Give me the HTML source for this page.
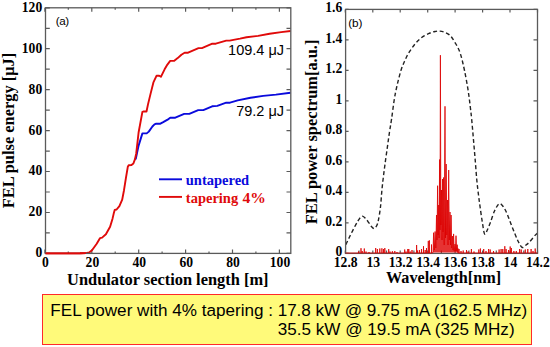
<!DOCTYPE html>
<html><head><meta charset="utf-8"><style>
html,body{margin:0;padding:0;background:#fff;width:550px;height:347px;overflow:hidden}
svg{position:absolute;left:0;top:0}
.box{position:absolute;left:41.5px;top:294px;width:488px;height:48.7px;background:#fffa7a;border:1.6px solid #ff2a2a;
font-family:"Liberation Sans",sans-serif;font-size:17.1px;color:#000;}
.l1{position:absolute;left:7.8px;top:5.7px;white-space:nowrap}
.l2{position:absolute;left:235.3px;top:24.6px;white-space:nowrap}
</style></head><body>
<svg width="550" height="347" viewBox="0 0 550 347">
<path d="M44.9,253.4v-4M44.9,7.8v4M68.3,253.4v-2M68.3,7.8v2M91.8,253.4v-4M91.8,7.8v4M115.2,253.4v-2M115.2,7.8v2M138.7,253.4v-4M138.7,7.8v4M162.1,253.4v-2M162.1,7.8v2M185.6,253.4v-4M185.6,7.8v4M209.0,253.4v-2M209.0,7.8v2M232.5,253.4v-4M232.5,7.8v4M255.9,253.4v-2M255.9,7.8v2M279.4,253.4v-4M279.4,7.8v4M45.5,253.4h4.3M290.8,253.4h-4.3M45.5,232.9h4.3M290.8,232.9h-4.3M45.5,212.5h4.3M290.8,212.5h-4.3M45.5,192.0h4.3M290.8,192.0h-4.3M45.5,171.5h4.3M290.8,171.5h-4.3M45.5,151.1h4.3M290.8,151.1h-4.3M45.5,130.6h4.3M290.8,130.6h-4.3M45.5,110.1h4.3M290.8,110.1h-4.3M45.5,89.7h4.3M290.8,89.7h-4.3M45.5,69.2h4.3M290.8,69.2h-4.3M45.5,48.7h4.3M290.8,48.7h-4.3M45.5,28.3h4.3M290.8,28.3h-4.3M45.5,7.8h4.3M290.8,7.8h-4.3M345.3,253.4v-3M345.3,9.4v3M359.0,253.4v-3M372.8,253.4v-3M372.8,9.4v3M386.5,253.4v-3M400.2,253.4v-3M400.2,9.4v3M413.9,253.4v-3M427.7,253.4v-3M427.7,9.4v3M441.4,253.4v-3M455.1,253.4v-3M455.1,9.4v3M468.9,253.4v-3M482.6,253.4v-3M482.6,9.4v3M496.3,253.4v-3M510.0,253.4v-3M510.0,9.4v3M523.8,253.4v-3M537.5,253.4v-3M537.5,9.4v3M345.6,253.3h3M537.5,253.3h-4M345.6,222.8h3M537.5,222.8h-4M345.6,192.3h3M537.5,192.3h-4M345.6,161.8h3M537.5,161.8h-4M345.6,131.4h3M537.5,131.4h-4M345.6,100.9h3M537.5,100.9h-4M345.6,70.4h3M537.5,70.4h-4M345.6,39.9h3M537.5,39.9h-4M345.6,9.4h3M537.5,9.4h-4" stroke="#5a5a5a" stroke-width="1.2" fill="none"/>
<polyline points="134.9,159.4 135.8,158.8 138.6,145.6 142.4,133.4 146.7,133.4 148.8,131.6 152.4,126.5 154.5,124.4 156.2,123.7 160.4,123.7 163.2,122.2 167.6,119.7 170.2,117.7 175.3,117.7 184.2,113.9 189.3,113.9 198.2,110.1 203.3,110.1 212.2,106.3 217.3,105.9 226.2,102.7 230.0,102.7 237.7,100.4 250.5,97.8 263.2,95.9 275.9,94.6 290.5,92.7" fill="none" stroke="#0a0adc" stroke-width="1.9" stroke-linejoin="round"/>
<polyline points="45.5,253.4 80.0,253.3 86.0,253.1 89.2,252.4 92.0,250.2 96.7,243.8 100.1,238.1 102.1,237.6 105.9,234.3 110.1,226.8 112.6,218.4 113.7,213.6 114.7,209.9 116.6,209.5 119.4,206.1 122.2,199.6 124.0,190.2 125.9,178.1 127.8,166.8 128.7,165.3 131.5,165.0 133.4,163.5 134.9,159.4 136.2,153.7 138.6,132.5 142.4,111.9 143.3,111.5 146.5,111.5 148.0,104.4 150.6,93.6 153.4,82.4 156.6,75.6 159.2,75.8 160.9,76.8 164.6,69.3 167.4,64.6 170.2,60.9 174.0,60.9 177.7,58.1 181.4,54.7 184.6,52.7 188.1,52.7 198.5,48.1 201.9,48.1 212.3,43.7 215.8,43.7 226.2,40.6 229.6,40.6 240.0,38.6 246.5,37.2 258.1,35.9 269.6,33.8 281.2,32.1 290.6,31.0" fill="none" stroke="#e00a0a" stroke-width="1.9" stroke-linejoin="round"/>
<path d="M345.80,244.60C346.42,243.33 348.17,239.68 349.50,237.00C350.83,234.32 352.38,231.17 353.80,228.50C355.22,225.83 356.65,223.05 358.00,221.00C359.35,218.95 360.65,216.62 361.90,216.20C363.15,215.78 364.35,217.42 365.50,218.50C366.65,219.58 367.80,221.37 368.80,222.70C369.80,224.03 370.60,225.53 371.50,226.50C372.40,227.47 373.37,228.58 374.20,228.50C375.03,228.42 375.85,227.17 376.50,226.00C377.15,224.83 377.45,224.55 378.10,221.50C378.75,218.45 379.73,213.27 380.40,207.70C381.07,202.13 381.42,194.72 382.10,188.10C382.78,181.48 383.63,174.73 384.50,168.00C385.37,161.27 386.47,153.70 387.30,147.70C388.13,141.70 388.78,136.82 389.50,132.00C390.22,127.18 390.82,124.13 391.60,118.80C392.38,113.47 393.38,105.13 394.20,100.00C395.02,94.87 395.73,91.60 396.50,88.00C397.27,84.40 397.97,81.60 398.80,78.40C399.63,75.20 400.53,71.67 401.50,68.80C402.47,65.93 403.55,63.58 404.60,61.20C405.65,58.82 406.65,56.58 407.80,54.50C408.95,52.42 410.22,50.55 411.50,48.70C412.78,46.85 414.15,44.98 415.50,43.40C416.85,41.82 418.10,40.48 419.60,39.20C421.10,37.92 422.77,36.73 424.50,35.70C426.23,34.67 428.25,33.70 430.00,33.00C431.75,32.30 433.33,31.82 435.00,31.50C436.67,31.18 438.42,30.98 440.00,31.10C441.58,31.22 443.05,31.65 444.50,32.20C445.95,32.75 447.48,33.52 448.70,34.40C449.92,35.28 450.85,36.30 451.80,37.50C452.75,38.70 453.45,40.05 454.40,41.60C455.35,43.15 456.53,44.87 457.50,46.80C458.47,48.73 459.37,50.75 460.20,53.20C461.03,55.65 461.78,58.62 462.50,61.50C463.22,64.38 463.78,67.00 464.50,70.50C465.22,74.00 466.08,78.42 466.80,82.50C467.52,86.58 468.22,90.92 468.80,95.00C469.38,99.08 469.82,102.92 470.30,107.00C470.78,111.08 471.17,114.00 471.70,119.50C472.23,125.00 472.92,133.25 473.50,140.00C474.08,146.75 474.65,153.33 475.20,160.00C475.75,166.67 476.25,174.17 476.80,180.00C477.35,185.83 477.95,190.50 478.50,195.00C479.05,199.50 479.47,202.50 480.10,207.00C480.73,211.50 481.55,217.50 482.30,222.00C483.05,226.50 483.77,232.67 484.60,234.00C485.43,235.33 486.35,231.87 487.30,230.00C488.25,228.13 489.10,225.97 490.30,222.80C491.50,219.63 493.00,214.20 494.50,211.00C496.00,207.80 497.80,204.27 499.30,203.60C500.80,202.93 502.20,205.30 503.50,207.00C504.80,208.70 505.85,210.97 507.10,213.80C508.35,216.63 509.68,220.63 511.00,224.00C512.32,227.37 513.75,231.00 515.00,234.00C516.25,237.00 517.30,239.75 518.50,242.00C519.70,244.25 520.95,247.00 522.20,247.50C523.45,248.00 524.77,245.93 526.00,245.00C527.23,244.07 528.05,243.55 529.60,241.90C531.15,240.25 534.00,236.55 535.30,235.10C536.60,233.65 537.05,233.52 537.40,233.20" fill="none" stroke="#222" stroke-width="1.4" stroke-dasharray="4,2.6" stroke-linejoin="round"/>
<rect x="45.5" y="7.8" width="245.3" height="245.6" fill="none" stroke="#5a5a5a" stroke-width="1.3"/>
<rect x="345.6" y="9.4" width="191.9" height="244.0" fill="none" stroke="#5a5a5a" stroke-width="1.3"/>
<polygon points="433.0,252.5 433.6,232.7 434.3,250.0 435.1,231.5 435.8,248.0 436.5,215.0 437.0,240.0 437.6,185.7 438.1,235.0 438.7,205.0 439.1,238.0 439.6,159.5 440.0,230.0 440.4,55.2 440.9,225.0 441.5,190.0 442.0,240.0 442.5,179.0 443.0,232.0 443.5,177.5 444.2,245.0 445.0,106.3 445.5,238.0 446.2,164.0 446.8,235.0 447.5,200.0 448.0,245.0 448.7,170.0 449.3,240.0 450.0,212.0 450.5,245.0 451.1,215.0 451.7,248.0 452.4,236.0 453.0,250.0 453.6,233.9 454.2,251.0 455.0,244.0 455.5,251.0 456.0,235.7 456.6,251.0 457.2,244.7 457.8,252.5" fill="#e00000" fill-opacity="0.8" stroke="none"/>
<polyline points="345.6,253.0 358.4,253.0 358.5,251.5 358.6,253.0 360.9,253.0 361.0,248.2 361.1,253.0 362.1,253.0 362.2,251.0 362.3,253.0 364.2,253.0 364.3,248.5 364.4,253.0 365.9,253.0 366.0,251.5 366.1,253.0 368.9,253.0 369.0,252.0 369.1,253.0 375.6,253.0 375.7,248.0 375.8,253.0 377.2,253.0 377.4,249.0 377.5,253.0 379.7,253.0 379.8,248.5 379.9,253.0 381.8,253.0 381.9,248.3 382.0,253.0 383.4,253.0 383.5,249.0 383.6,253.0 384.7,253.0 384.8,248.0 384.9,253.0 388.6,253.0 388.7,249.1 388.8,253.0 389.9,253.0 390.0,251.5 390.1,253.0 392.2,253.0 392.4,251.2 392.5,253.0 394.7,253.0 394.8,251.0 394.9,253.0 396.9,253.0 397.0,252.0 397.1,253.0 404.6,253.0 404.7,249.5 404.8,253.0 405.9,253.0 406.0,251.5 406.1,253.0 407.7,253.0 407.8,249.0 407.9,253.0 408.7,253.0 408.8,249.0 408.9,253.0 410.1,253.0 410.2,251.5 410.3,253.0 411.9,253.0 412.0,250.0 412.1,253.0 416.5,253.0 416.6,245.0 416.8,253.0 417.4,253.0 417.5,250.5 417.6,253.0 419.2,253.0 419.4,250.0 419.5,253.0 421.4,253.0 421.5,249.0 421.6,253.0 423.4,253.0 423.5,246.2 423.6,253.0 425.1,253.0 425.2,250.0 425.3,253.0 426.4,253.0 426.5,248.0 426.6,253.0 428.2,253.0 428.3,240.9 428.4,253.0 429.2,253.0 429.4,240.4 429.5,253.0 431.4,253.0 431.5,244.5 431.6,253.0 433.0,252.5 433.6,232.7 434.3,250.0 435.1,231.5 435.8,248.0 436.5,215.0 437.0,240.0 437.6,185.7 438.1,235.0 438.7,205.0 439.1,238.0 439.6,159.5 440.0,230.0 440.4,55.2 440.9,225.0 441.5,190.0 442.0,240.0 442.5,179.0 443.0,232.0 443.5,177.5 444.2,245.0 445.0,106.3 445.5,238.0 446.2,164.0 446.8,235.0 447.5,200.0 448.0,245.0 448.7,170.0 449.3,240.0 450.0,212.0 450.5,245.0 451.1,215.0 451.7,248.0 452.4,236.0 453.0,250.0 453.6,233.9 454.2,251.0 455.0,244.0 455.5,251.0 456.0,235.7 456.6,251.0 457.2,244.7 457.8,252.5 458.0,248.5 458.1,253.0 458.9,253.0 459.0,249.0 459.1,253.0 460.9,253.0 461.0,251.0 461.1,253.0 463.1,253.0 463.2,250.5 463.3,253.0 466.4,253.0 466.5,250.0 466.6,253.0 467.9,253.0 468.0,251.5 468.1,253.0 471.2,253.0 471.4,249.0 471.5,253.0 473.9,253.0 474.0,251.5 474.1,253.0 478.7,253.0 478.8,249.5 478.9,253.0 480.2,253.0 480.4,248.5 480.5,253.0 483.6,253.0 483.7,249.0 483.8,253.0 485.9,253.0 486.0,251.0 486.1,253.0 488.5,253.0 488.6,249.0 488.8,253.0 490.1,253.0 490.2,249.5 490.3,253.0 493.4,253.0 493.5,251.0 493.6,253.0 499.0,253.0 499.1,249.5 499.2,253.0 501.0,253.0 501.1,249.0 501.2,253.0 502.7,253.0 502.8,249.0 502.9,253.0 504.7,253.0 504.8,246.2 504.9,253.0 506.0,253.0 506.1,249.0 506.2,253.0 508.4,253.0 508.5,250.0 508.6,253.0 510.1,253.0 510.2,246.5 510.3,253.0 511.2,253.0 511.4,248.0 511.5,253.0 513.8,253.0 513.9,251.0 514.0,253.0 516.1,253.0 516.3,251.0 516.4,253.0 519.5,253.0 519.6,249.0 519.8,253.0 521.1,253.0 521.2,249.5 521.4,253.0 525.1,253.0 525.3,249.5 525.4,253.0 527.6,253.0 527.8,249.0 527.9,253.0 531.0,253.0 531.1,249.0 531.2,253.0 532.9,253.0 533.0,251.0 533.1,253.0 535.1,253.0 535.2,248.5 535.4,253.0 537.5,253.0" fill="none" stroke="#dc0000" stroke-width="0.8" stroke-linejoin="miter" stroke-miterlimit="2"/>
<polyline points="45.5,253.4 80,253.3 86,253.1" fill="none" stroke="#e00a0a" stroke-width="1.9"/>
<text x="42.2" y="257.3" font-family="Liberation Serif" font-weight="bold" font-size="13.6" text-anchor="end">0</text>
<text x="42.2" y="216.4" font-family="Liberation Serif" font-weight="bold" font-size="13.6" text-anchor="end">20</text>
<text x="42.2" y="175.4" font-family="Liberation Serif" font-weight="bold" font-size="13.6" text-anchor="end">40</text>
<text x="42.2" y="134.5" font-family="Liberation Serif" font-weight="bold" font-size="13.6" text-anchor="end">60</text>
<text x="42.2" y="93.6" font-family="Liberation Serif" font-weight="bold" font-size="13.6" text-anchor="end">80</text>
<text x="42.2" y="52.6" font-family="Liberation Serif" font-weight="bold" font-size="13.6" text-anchor="end">100</text>
<text x="42.2" y="11.7" font-family="Liberation Serif" font-weight="bold" font-size="13.6" text-anchor="end">120</text>
<text x="45.5" y="267" font-family="Liberation Serif" font-weight="bold" font-size="13.6" text-anchor="middle">0</text>
<text x="92.4" y="267" font-family="Liberation Serif" font-weight="bold" font-size="13.6" text-anchor="middle">20</text>
<text x="139.3" y="267" font-family="Liberation Serif" font-weight="bold" font-size="13.6" text-anchor="middle">40</text>
<text x="186.2" y="267" font-family="Liberation Serif" font-weight="bold" font-size="13.6" text-anchor="middle">60</text>
<text x="233.1" y="267" font-family="Liberation Serif" font-weight="bold" font-size="13.6" text-anchor="middle">80</text>
<text x="280.0" y="267" font-family="Liberation Serif" font-weight="bold" font-size="13.6" text-anchor="middle">100</text>
<text x="342.2" y="256.3" font-family="Liberation Serif" font-weight="bold" font-size="13.6" text-anchor="end">0</text>
<text x="342.2" y="225.8" font-family="Liberation Serif" font-weight="bold" font-size="13.6" text-anchor="end">0.2</text>
<text x="342.2" y="195.3" font-family="Liberation Serif" font-weight="bold" font-size="13.6" text-anchor="end">0.4</text>
<text x="342.2" y="164.8" font-family="Liberation Serif" font-weight="bold" font-size="13.6" text-anchor="end">0.6</text>
<text x="342.2" y="134.4" font-family="Liberation Serif" font-weight="bold" font-size="13.6" text-anchor="end">0.8</text>
<text x="342.2" y="103.9" font-family="Liberation Serif" font-weight="bold" font-size="13.6" text-anchor="end">1</text>
<text x="342.2" y="73.4" font-family="Liberation Serif" font-weight="bold" font-size="13.6" text-anchor="end">1.2</text>
<text x="342.2" y="42.9" font-family="Liberation Serif" font-weight="bold" font-size="13.6" text-anchor="end">1.4</text>
<text x="342.2" y="12.4" font-family="Liberation Serif" font-weight="bold" font-size="13.6" text-anchor="end">1.6</text>
<text x="345.7" y="267" font-family="Liberation Serif" font-weight="bold" font-size="13.6" text-anchor="middle">12.8</text>
<text x="373.2" y="267" font-family="Liberation Serif" font-weight="bold" font-size="13.6" text-anchor="middle">13</text>
<text x="400.6" y="267" font-family="Liberation Serif" font-weight="bold" font-size="13.6" text-anchor="middle">13.2</text>
<text x="428.1" y="267" font-family="Liberation Serif" font-weight="bold" font-size="13.6" text-anchor="middle">13.4</text>
<text x="455.5" y="267" font-family="Liberation Serif" font-weight="bold" font-size="13.6" text-anchor="middle">13.6</text>
<text x="483.0" y="267" font-family="Liberation Serif" font-weight="bold" font-size="13.6" text-anchor="middle">13.8</text>
<text x="510.4" y="267" font-family="Liberation Serif" font-weight="bold" font-size="13.6" text-anchor="middle">14</text>
<text x="537.9" y="267" font-family="Liberation Serif" font-weight="bold" font-size="13.6" text-anchor="middle">14.2</text>
<text x="167.8" y="285" font-family="Liberation Serif" font-weight="bold" font-size="16.4" text-anchor="middle">Undulator section length [m]</text>
<text x="443.6" y="283" font-family="Liberation Serif" font-weight="bold" font-size="16.2" text-anchor="middle">Wavelength[nm]</text>
<text transform="translate(13.5,130.6) rotate(-90)" font-family="Liberation Serif" font-weight="bold" font-size="16.4" text-anchor="middle">FEL pulse energy [μJ]</text>
<text transform="translate(317.2,131.9) rotate(-90)" font-family="Liberation Serif" font-weight="bold" font-size="16.4" text-anchor="middle">FEL power spectrum[a.u.]</text>
<text x="55.8" y="25" font-family="Liberation Sans" font-size="11.6" letter-spacing="-0.4">(a)</text>
<text x="348.3" y="26.7" font-family="Liberation Sans" font-size="11.8" letter-spacing="-0.2">(b)</text>
<text x="284" y="55.3" font-family="Liberation Sans" font-size="14.5" text-anchor="end">109.4 μJ</text>
<text x="284" y="116.4" font-family="Liberation Sans" font-size="14.5" text-anchor="end">79.2 μJ</text>
<path d="M159,179.3h23" stroke="#0a0adc" stroke-width="1.9"/>
<path d="M159,196.9h23" stroke="#e00a0a" stroke-width="1.9"/>
<text x="185.8" y="185.2" font-family="Liberation Serif" font-weight="bold" font-size="14.5" fill="#0a0adc">untapered</text>
<text x="185.8" y="203.2" font-family="Liberation Serif" font-weight="bold" font-size="14.5" fill="#e00a0a">tapering <tspan font-size="15.6" dx="0.6">4%</tspan></text>
</svg>
<div class="box"><div class="l1">FEL power with 4% tapering : <span style="letter-spacing:-0.055px">17.8 kW @ 9.75 mA (162.5 MHz)</span></div><div class="l2">35.5 kW @ 19.5 mA (325 MHz)</div></div>
</body></html>
